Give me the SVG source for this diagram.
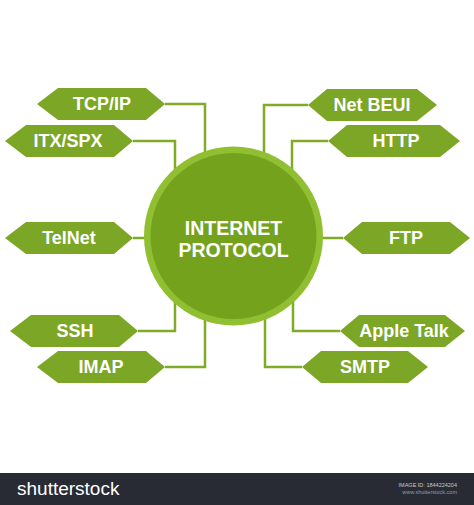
<svg xmlns="http://www.w3.org/2000/svg" width="474" height="505" viewBox="0 0 474 505">
<style>
.hex{fill:#7ca625}
.lbl{font-family:"Liberation Sans",Arial,sans-serif;font-weight:bold;font-size:18px;fill:#ffffff;text-anchor:middle;dominant-baseline:central}
.con{fill:none;stroke:#80ab26;stroke-width:2.5}
</style>
<rect width="474" height="505" fill="#ffffff"/>
<g id="connectors">
<polyline class="con" points="165,104 205,104 205,160"/>
<polyline class="con" points="133,141 175,141 175,175"/>
<polyline class="con" points="133,238 150,238"/>
<polyline class="con" points="308,105 264,105 264,160"/>
<polyline class="con" points="328,141 292,141 292,175"/>
<polyline class="con" points="318,238 343,238"/>
<polyline class="con" points="138,331 175,331 175,300"/>
<polyline class="con" points="165,367 205,367 205,310"/>
<polyline class="con" points="340,331 293,331 293,300"/>
<polyline class="con" points="302,367 265,367 265,310"/>
</g>
<g id="center">
<circle cx="233.5" cy="236" r="89.5" fill="#90c032"/>
<circle cx="233.5" cy="236" r="83" fill="#75a21d"/>
<text class="lbl" x="233.5" y="228" style="font-size:19.5px">INTERNET</text>
<text class="lbl" x="233.5" y="250" style="font-size:19.5px">PROTOCOL</text>
</g>
<g id="tcpip"><path class="hex" d="M37,104 L58,88 L146,88 L165,104 L146,120 L58,120 Z"/><text class="lbl" x="102" y="104">TCP/IP</text></g>
<g id="itxspx"><path class="hex" d="M5,141 L26,125 L114,125 L133,141 L114,157 L26,157 Z"/><text class="lbl" x="68" y="141">ITX/SPX</text></g>
<g id="telnet"><path class="hex" d="M5,238 L26,222 L114,222 L133,238 L114,254 L26,254 Z"/><text class="lbl" x="69" y="238">TelNet</text></g>
<g id="ssh"><path class="hex" d="M10,331 L31,315 L119,315 L138,331 L119,347 L31,347 Z"/><text class="lbl" x="75" y="331">SSH</text></g>
<g id="imap"><path class="hex" d="M37,367 L58,351 L146,351 L165,367 L146,383 L58,383 Z"/><text class="lbl" x="101" y="367">IMAP</text></g>
<g id="netbeui"><path class="hex" d="M308,105 L327,89 L417,89 L437,105 L417,121 L327,121 Z"/><text class="lbl" x="372" y="105">Net BEUI</text></g>
<g id="http"><path class="hex" d="M328,141 L347,125 L440,125 L460,141 L440,157 L347,157 Z"/><text class="lbl" x="396" y="141">HTTP</text></g>
<g id="ftp"><path class="hex" d="M343,238 L362,222 L450,222 L470,238 L450,254 L362,254 Z"/><text class="lbl" x="406" y="238">FTP</text></g>
<g id="appletalk"><path class="hex" d="M340,331 L359,315 L445,315 L465,331 L445,347 L359,347 Z"/><text class="lbl" x="404" y="331">Apple Talk</text></g>
<g id="smtp"><path class="hex" d="M302,367 L321,351 L408,351 L428,367 L408,383 L321,383 Z"/><text class="lbl" x="365" y="367">SMTP</text></g>
<g id="footer">
<rect x="0" y="473" width="474" height="32" fill="#282b33"/>
<text x="17" y="495" style="font-family:'Liberation Sans',Arial,sans-serif;font-size:19px;fill:#ffffff">shutterstock</text>
<text x="457" y="487" style="font-family:'Liberation Sans',Arial,sans-serif;font-size:5.5px;fill:#c8cace;text-anchor:end">IMAGE ID: 1844224204</text>
<text x="457" y="494" style="font-family:'Liberation Sans',Arial,sans-serif;font-size:5.5px;fill:#9a9ca2;text-anchor:end">www.shutterstock.com</text>
</g>
</svg>
